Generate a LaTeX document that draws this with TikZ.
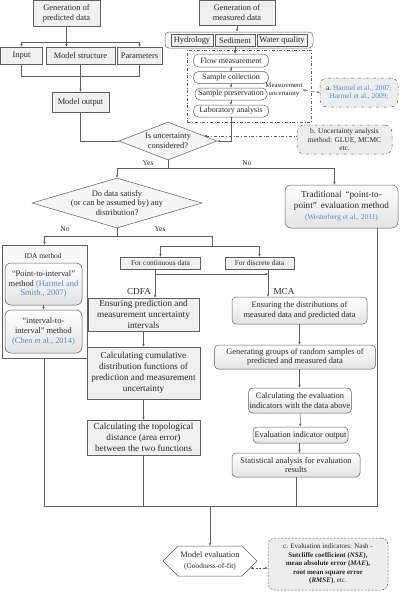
\documentclass[tikz,border=0pt]{standalone}
\usepackage{fontspec}
\setmainfont{Liberation Serif}
\usetikzlibrary{shapes.geometric,shapes.symbols,arrows.meta}

\definecolor{citeblue}{RGB}{95,135,200}
\definecolor{edgegray}{RGB}{95,95,95}
\definecolor{inkgray}{RGB}{40,40,40}

\newcommand{\fsmall}{\fontsize{7.4}{8.6}\selectfont}
\newcommand{\fmid}{\fontsize{8.4}{9.8}\selectfont}
\newcommand{\fbig}{\fontsize{9.2}{11}\selectfont}

\tikzset{
  base/.style={draw=edgegray, align=center, inner sep=1pt, text=inkgray, font=\fmid},
  greybox/.style={base, fill=gray!12},
  roundbox/.style={base, rounded corners=4pt, top color=white, bottom color=gray!22},
  procbox/.style={base, rounded corners=5pt, fill=white, font=\fontsize{8}{9.5}\selectfont},
  notebox/.style={base, rounded corners=7pt, fill=gray!14, font=\fsmall},
  decision/.style={diamond, draw=edgegray, fill=gray!8, inner sep=0pt},
  txt/.style={align=center, text=inkgray, font=\fmid, inner sep=0pt},
  link/.style={draw=edgegray, ->},
  joint/.style={draw=edgegray},
}

\begin{document}
\begin{tikzpicture}[x=1pt, y=-1pt, >={Stealth[length=3pt,width=2.4pt]}, line width=0.5pt]
\useasboundingbox (0,0) rectangle (402,600);

% predicted data
\node[greybox, minimum width=67pt, minimum height=26pt] (gpred) at (66.5,13.5) {Generation of\\predicted data};
\node[greybox, minimum width=42pt, minimum height=17pt] (input) at (21.5,55.5) {Input};
\node[greybox, minimum width=69pt, minimum height=17pt] (mstruct) at (80.5,55.5) {Model structure};
\node[greybox, minimum width=45pt, minimum height=17pt] (params) at (139.5,55.5) {Parameters};
\node[greybox, minimum width=57pt, minimum height=20pt] (mout) at (80.5,102) {Model output};

\coordinate (split1) at (66,42);
\coordinate (join1) at (0,76);
\draw[link] (gpred.south) -- (gpred.south |- mstruct.north);
\draw[joint] (input.north |- split1) -- (params.north |- split1);
\draw[link] (input.north |- split1) -- (input.north);
\draw[link] (params.north |- split1) -- (params.north);
\draw[joint] (input.south) -- (input.south |- join1) -- (params.south |- join1) -- (params.south);
\draw[link] (mstruct.south) -- (mout.north);

% measured data
\node[greybox, minimum width=76pt, minimum height=25pt] (gmeas) at (237,12.5) {Generation of\\measured data};
\node[base, rounded corners=4pt, minimum width=148pt, minimum height=16pt] (mtype) at (239,40) {};
\node[greybox, minimum width=42pt, minimum height=12pt, inner sep=0.5pt] (hydro) at (192,40.5) {Hydrology};
\node[greybox, minimum width=40pt, minimum height=12pt, inner sep=0.5pt] (sed) at (235,40.5) {Sediment};
\node[greybox, minimum width=50pt, minimum height=12pt, inner sep=0.5pt] (wq) at (282,40.5) {Water quality};
\draw[link] (gmeas.south) -- (gmeas.south |- mtype.north);

\node[draw=edgegray, dashdotted, minimum width=124pt, minimum height=72pt] (mproc) at (249,86) {};
\node[procbox, minimum width=75pt, minimum height=13pt] (flow) at (231,60.5) {Flow measurement};
\node[procbox, minimum width=75pt, minimum height=12pt] (coll) at (231,77.5) {Sample collection};
\node[procbox, minimum width=72pt, minimum height=12pt] (pres) at (231,94) {Sample preservation};
\node[procbox, minimum width=75pt, minimum height=12pt] (lab) at (231,111) {Laboratory analysis};
\draw[link] (sed.south) -- (sed.south |- flow.north);
\draw[link] (flow) -- (coll);
\draw[link] (coll) -- (pres);
\draw[link] (pres) -- (lab);
\node[txt, font=\fontsize{6.8}{8.2}\selectfont] (munc) at (284,90) {Measurement\\uncertainty};

\node[notebox, dashdotted, minimum width=78pt, minimum height=29pt] (refa) at (359,92.5)
  {a.\ \textcolor{citeblue}{Harmel et al., 2007;}\\\textcolor{citeblue}{Harmel et al., 2009;}};
\draw[<->, draw=edgegray, dashdotted] (munc.east) -- (refa.west);

% uncertainty decision
\node[decision, minimum width=98pt, minimum height=38pt] (uc) at (168,141) {};
\node[txt] (uctext) at (uc.center) {Is uncertainty\\considered?};
\draw[link] (lab.south) -- (lab.south |- uc.east) -- (uc.east);
\draw[joint] (mout.south) |- (uc.west);

\node[notebox, dashdotted, minimum width=95pt, minimum height=29pt] (refb) at (344.5,139.5)
  {b. Uncertainty analysis\\method: GLUE, MCMC\\etc.};
\draw[<-, draw=edgegray, dashdotted] (uc.8) -- (uc.8 -| refb.west);

% distribution decision
\node[decision, minimum width=170pt, minimum height=50pt] (dist) at (117,203) {};
\node[txt] (disttext) at (dist.center) {Do data satisfy\\(or can be assumed by) any\\distribution?};

\node[roundbox, rounded corners=6pt, font=\fbig, minimum width=113pt, minimum height=43pt] (trad) at (341.5,206.5)
  {Traditional \,“point-to-\\point” \,evaluation method\\{\fsmall\textcolor{citeblue}{(Westerberg et al., 2011)}}};

\coordinate (fork1) at (168,168);
\draw[joint] (uc.south) -- (fork1);
\draw[link] (fork1) -| (dist.north);
\draw[link] (fork1) -| ([xshift=-7pt]trad.north);
\node[txt, font=\fsmall] (yes1) at (148,163) {Yes};
\node[txt, font=\fsmall] (no1) at (247,163) {No};

% IDA method
\node[draw=edgegray, fill=gray!5, minimum width=85pt, minimum height=113pt] (ida) at (44.5,301.5) {};
\node[txt, font=\fsmall] (idatext) at (43,256) {IDA method};
\node[roundbox, rounded corners=6pt, minimum width=77pt, minimum height=42pt] (p2i) at (43.5,284)
  {“Point-to-interval”\\method \textcolor{citeblue}{(Harmel and}\\\textcolor{citeblue}{Smith., 2007)}};
\node[roundbox, rounded corners=6pt, minimum width=77pt, minimum height=43pt] (i2i) at (43.5,331.5)
  {“interval-to-\\interval” method\\\textcolor{citeblue}{(Chen et al., 2014)}};
\draw[link] (p2i) -- (i2i);

\node[greybox, font=\fsmall, minimum width=80pt, minimum height=12pt] (cont) at (160.5,263) {For continuous data};
\node[greybox, font=\fsmall, minimum width=69pt, minimum height=12pt] (disc) at (259.5,263) {For discrete data};

\coordinate (fork2) at (117,236);
\coordinate (fork3) at (212,246);
\draw[joint] (dist.south) -- (fork2);
\draw[link] (fork2) -| (ida.north);
\draw[joint] (fork2) -| (fork3);
\draw[link] (fork3) -| (cont.north);
\draw[link] (fork3) -| (disc.north);
\node[txt, font=\fsmall] (no2) at (65,229) {No};
\node[txt, font=\fsmall] (yes2) at (160,229) {Yes};

% CDFA column
\node[greybox, font=\fbig, minimum width=111pt, minimum height=33pt] (c1) at (143.5,314.5)
  {Ensuring prediction and\\measurement uncertainty\\intervals};
\node[greybox, font=\fbig, minimum width=113pt, minimum height=52pt] (c2) at (143.5,373)
  {Calculating cumulative\\distribution functions of\\prediction and measurement\\uncertainty};
\node[greybox, font=\fbig, minimum width=113pt, minimum height=35pt] (c3) at (143.5,437.5)
  {Calculating the topological\\distance (area error)\\between the two functions};

% MCA column
\node[roundbox, minimum width=135pt, minimum height=27pt] (m1) at (299.5,310.5)
  {Ensuring the distributions of\\measured data and predicted data};
\node[roundbox, minimum width=161pt, minimum height=24pt] (m2) at (295,357)
  {Generating groups of random samples of\\predicted and measured data};
\node[roundbox, minimum width=86pt, minimum height=25pt] (m3) at (300,400.5)
  {Calculating the evaluation\\indicators with the data above};
\node[roundbox, minimum width=95pt, minimum height=16pt] (m4) at (300.5,435) {Evaluation indicator output};
\node[roundbox, minimum width=128pt, minimum height=24pt] (m5) at (296,465)
  {Statistical analysis for evaluation\\results};

\coordinate (cdfaline) at (155,274);
\coordinate (mcaline) at (268,274);
\draw[joint] (cdfaline |- cont.south) -- (cdfaline);
\draw[link] (cdfaline) -- (cdfaline |- c1.north);
\draw[link] (cdfaline) -- (mcaline);
\draw[link] (mcaline |- disc.south) -- (mcaline |- m1.north);
\node[txt, font=\fbig] (cdfalab) at (139,291) {CDFA};
\node[txt, font=\fbig] (mcalab) at (284,291) {MCA};

\draw[link] (c1) -- (c2);
\draw[link] (c2) -- (c3);
\draw[link] (m1.south) -- (m1.south |- m2.north);
\draw[link] (m1.south |- m2.south) -- (m1.south |- m3.north);
\draw[link] (m3) -- (m4);
\draw[link] (m1.south |- m4.south) -- (m1.south |- m5.north);

% model evaluation
\node[signal, signal to=west and east, draw=edgegray, fill=white, inner sep=0pt,
      minimum width=94pt, minimum height=30pt] (hexa) at (210,561) {};
\node[txt] (hexatext) at (hexa.center) {Model evaluation\\[1pt]{\fsmall(Goodness-of-fit)}};

\coordinate (merge) at (210,506);
\coordinate (tradout) at ([xshift=35.5pt]trad.south);
\draw[joint] (ida.south) -- (ida.south |- merge) -- (merge -| tradout) -- (tradout);
\draw[joint] (c3.south) -- (c3.south |- merge);
\draw[joint] (m5.south) -- (m5.south |- merge);
\draw[link] (merge) -- (hexa.north);

\node[notebox, dash pattern=on 2pt off 1.5pt, font=\fontsize{7}{8.6}\selectfont, minimum width=120pt, minimum height=52pt] (refc) at (328,564)
  {c. Evaluation indicators: Nash -\\\textbf{Sutcliffe coefficient (\textit{NSE}),}\\\textbf{mean absolute error (\textit{MAE}),}\\\textbf{root mean square error}\\\textbf{(\textit{RMSE})}, etc.};
\draw[<->, draw=edgegray, dash pattern=on 2pt off 1.5pt] (hexa.-10) -- (hexa.-10 -| refc.west);
\end{tikzpicture}
\end{document}
